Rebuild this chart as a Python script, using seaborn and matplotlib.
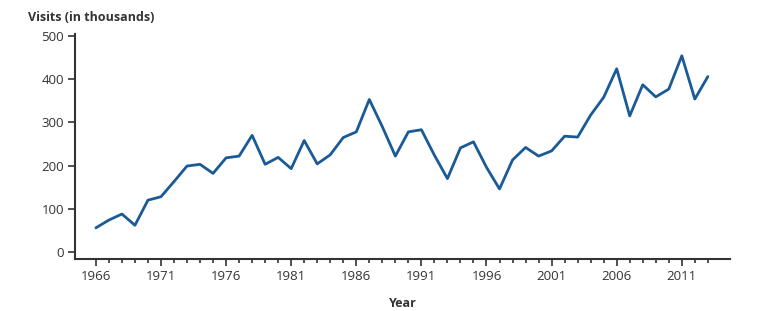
import numpy as np
import pandas as pd
import matplotlib
matplotlib.use('Agg')
import matplotlib.pyplot as plt
import seaborn as sns

# Valores (miles de visitas por anio)
years = list(range(1966, 2014))
visits = [56, 74, 88, 62, 120, 128, 163, 199, 203, 182,
          218, 222, 270, 203, 219, 193, 258, 204, 225, 265,
          278, 353, 290, 222, 278, 283, 224, 170, 241, 255,
          196, 146, 213, 242, 222, 234, 268, 266, 317, 358,
          424, 315, 387, 359, 377, 454, 354, 406]
major_ticks = list(range(1966, 2012, 5))
y_ticks = [0, 100, 200, 300, 400, 500]

df = pd.DataFrame({'year': years, 'visits': visits})

sns.set_style('white')
plt.rcParams['font.family'] = ['Open Sans', 'DejaVu Sans']

fig = plt.figure(figsize=(7.68, 3.11), dpi=100)
ax = fig.add_axes([0.0977, 0.168, 0.8528, 0.722])

sns.lineplot(data=df, x='year', y='visits', ax=ax, color='#1a5a96', linewidth=2.0)

ax.set_xlim(1964.4, 2014.7)
ax.set_ylim(-15.5, 504)
ax.set_xticks(major_ticks)
ax.set_xticklabels([str(y) for y in major_ticks], fontsize=9.5, color='#333333')
ax.set_xticks(years, minor=True)
ax.set_yticks(y_ticks)
ax.set_yticklabels([str(v) for v in y_ticks], fontsize=9.5, color='#333333')
ax.tick_params(axis='x', which='major', bottom=True, length=5, width=1.2, color='#333333', direction='out', pad=3)
ax.tick_params(axis='x', which='minor', bottom=True, length=3, width=1.2, color='#333333', direction='out')
ax.tick_params(axis='y', left=True, length=5, width=1.2, color='#333333', direction='out', pad=3)

for s in ['top', 'right']:
    ax.spines[s].set_visible(False)
for s in ['left', 'bottom']:
    ax.spines[s].set_color('#333333')
    ax.spines[s].set_linewidth(1.5)

ax.set_xlabel('Year', fontsize=9, fontweight='bold', color='#333333', labelpad=10)
ax.set_ylabel('')
fig.text(0.036, 0.945, 'Visits (in thousands)', fontsize=9, fontweight='bold',
         color='#333333', ha='left', va='center')

fig.savefig('out.png', dpi=100)
